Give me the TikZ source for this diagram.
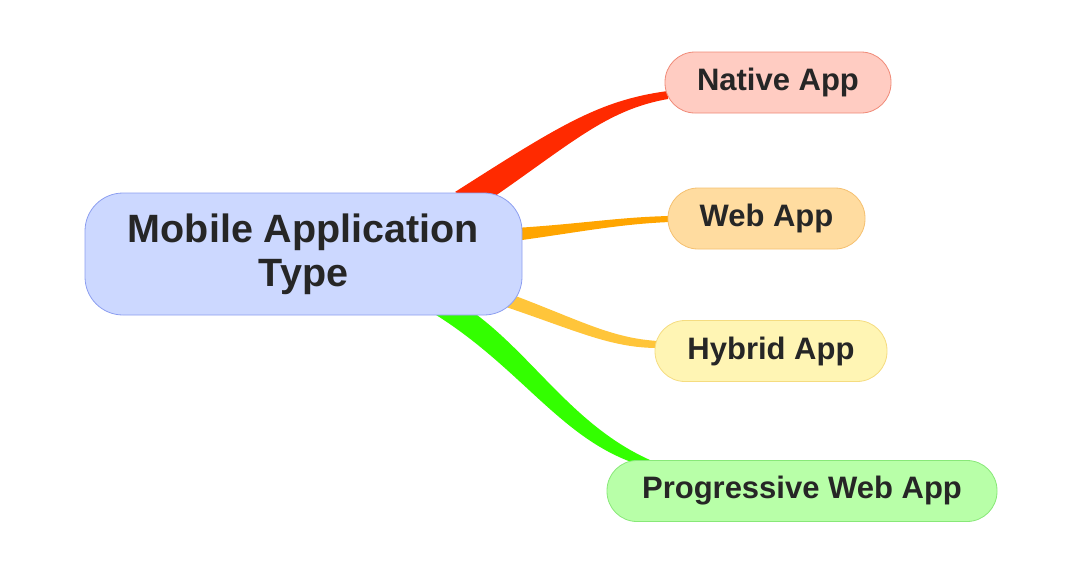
\documentclass[tikz,border=0pt]{standalone}
\usepackage{fontspec}
\setmainfont{Liberation Sans}
\definecolor{cfill}{HTML}{CCD8FF}\definecolor{cdraw}{HTML}{8C9EF0}
\definecolor{nfill}{HTML}{FFCCC2}\definecolor{ndraw}{HTML}{F08A78}
\definecolor{wfill}{HTML}{FFDCA0}\definecolor{wdraw}{HTML}{F5C070}
\definecolor{hfill}{HTML}{FFF5B4}\definecolor{hdraw}{HTML}{F5DC80}
\definecolor{pfill}{HTML}{B8FFA8}\definecolor{pdraw}{HTML}{88E878}
\definecolor{rr}{HTML}{FF2A00}\definecolor{ro}{HTML}{FFA500}
\definecolor{ry}{HTML}{FFC53A}\definecolor{rg}{HTML}{33FF00}
\begin{document}
\begin{tikzpicture}[x=1pt,y=-1pt,
 box/.style={rounded corners=30pt,draw,line width=0.8pt,align=center,font=\bfseries,text=black!85},
 leaf/.style={box,font=\fontsize{31}{36}\bfseries,inner sep=0pt,minimum height=61pt}]
\useasboundingbox (0,0) rectangle (1084,584);
% ribbons
\fill[rr] (455,192) .. controls (560,125) and (600,100) .. (668,91) -- (668,99) .. controls (605,110) and (570,145) .. (482,205) -- cycle;
\fill[ro] (515,228) .. controls (580,224) and (620,217) .. (670,216) -- (670,222) .. controls (620,224) and (580,232) .. (515,241) -- cycle;
\fill[ry] (505,292) .. controls (580,320) and (610,338) .. (658,341) -- (658,348) .. controls (610,348) and (575,330) .. (500,305) -- cycle;
\fill[rg] (428,310) .. controls (520,365) and (560,440) .. (640,465) -- (662,465) .. controls (570,430) and (530,345) .. (455,300) -- cycle;
% nodes
\node[box,fill=cfill,draw=cdraw,font=\fontsize{39.5}{44}\bfseries,minimum width=437pt,minimum height=122pt,rounded corners=38pt] (c) at (303.5,254) {Mobile Application\\Type};
\node[leaf,fill=nfill,draw=ndraw,minimum width=226pt] (n) at (778,82.5) {Native App};
\node[leaf,fill=wfill,draw=wdraw,minimum width=197pt] (w) at (766.5,218.5) {Web App};
\node[leaf,fill=hfill,draw=hdraw,minimum width=232pt] (h) at (771,351) {Hybrid App};
\node[leaf,fill=pfill,draw=pdraw,minimum width=390pt] (p) at (802,491) {Progressive Web App};
\end{tikzpicture}
\end{document}
